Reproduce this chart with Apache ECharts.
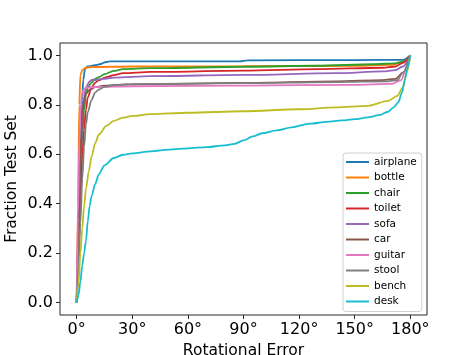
<!DOCTYPE html>
<html>
<head>
<meta charset="utf-8">
<script src="https://cdn.jsdelivr.net/npm/echarts@6/dist/echarts.min.js"></script>
<style>
html,body{margin:0;padding:0;background:#fff;}
#chart{width:474px;height:355px;}
</style>
</head>
<body>
<div id="chart"></div>
<script>
// Category names (legend order)
const categories = ['airplane','bottle','chair','toilet','sofa','car','guitar','stool','bench','desk'];
const colors = ['#1f77b4','#ff7f0e','#2ca02c','#d62728','#9467bd','#8c564b','#e377c2','#7f7f7f','#bcbd22','#17becf'];

// Tick labels
const xTicks = [0,30,60,90,120,150,180];
const yTicks = [0,0.2,0.4,0.6,0.8,1.0];

// Series values: [rotational error (deg), fraction of test set]
const airplane = [[0,0],[1,0.25],[2,0.55],[3,0.82],[3.5,0.9],[4.5,0.945],[6,0.955],[10,0.96],[13,0.965],[15,0.972],[18,0.976],[60,0.976],[88,0.976],[92,0.98],[150,0.981],[176,0.982],[180,1.0]];
const bottle = [[0,0],[0.7,0.4],[1.4,0.8],[2,0.92],[3,0.94],[5,0.95],[8,0.953],[30,0.955],[90,0.956],[150,0.958],[170,0.962],[175,0.97],[178,0.98],[180,1.0]];
const chair = [[0,0],[1,0.25],[2,0.5],[3,0.68],[4,0.78],[5,0.84],[6,0.87],[8,0.89],[10,0.905],[12,0.912],[15,0.924],[20,0.937],[25,0.944],[40,0.948],[90,0.954],[130,0.958],[160,0.964],[172,0.968],[176,0.975],[180,1.0]];
const toilet = [[0,0],[1,0.2],[2,0.4],[3,0.58],[4,0.7],[5,0.78],[6,0.83],[8,0.87],[10,0.89],[12,0.9],[16,0.912],[20,0.92],[25,0.928],[40,0.933],[90,0.938],[130,0.944],[165,0.95],[172,0.955],[176,0.97],[180,1.0]];
const sofa = [[0,0],[1,0.3],[2,0.58],[3,0.75],[4,0.83],[5,0.87],[7,0.895],[8.5,0.902],[10,0.9],[14,0.905],[20,0.91],[40,0.916],[90,0.921],[140,0.928],[165,0.935],[172,0.94],[176,0.955],[180,1.0]];
const car = [[0,0],[1,0.3],[2,0.6],[3,0.76],[4,0.82],[5,0.845],[7,0.86],[10,0.872],[15,0.878],[25,0.882],[50,0.885],[90,0.889],[140,0.895],[165,0.9],[172,0.905],[176,0.93],[180,1.0]];
const guitar = [[0,0],[0.7,0.35],[1.4,0.65],[2.2,0.8],[3,0.85],[4,0.865],[6,0.87],[10,0.872],[30,0.875],[90,0.878],[150,0.881],[170,0.885],[175,0.9],[178,0.95],[180,1.0]];
const stool = [[0,0],[1,0.15],[2,0.32],[3,0.5],[4,0.63],[5,0.72],[6,0.77],[8,0.82],[10,0.85],[12,0.862],[15,0.873],[20,0.88],[30,0.884],[60,0.886],[90,0.888],[140,0.892],[168,0.895],[173,0.9],[176,0.93],[180,1.0]];
const bench = [[0,0],[1,0.08],[2,0.2],[3,0.3],[4,0.39],[5,0.46],[6.5,0.53],[8,0.59],[10,0.645],[12,0.68],[16,0.715],[20,0.735],[25,0.748],[30,0.755],[40,0.762],[60,0.768],[90,0.774],[120,0.782],[140,0.79],[157,0.796],[168,0.816],[173,0.836],[176,0.87],[178,0.93],[180,1.0]];
const desk = [[0,0],[1,0.03],[2,0.085],[3,0.15],[4,0.2],[5,0.25],[6,0.33],[7,0.39],[8,0.43],[10,0.48],[12,0.52],[15,0.555],[20,0.585],[25,0.598],[30,0.604],[40,0.612],[50,0.619],[60,0.624],[70,0.629],[80,0.636],[85,0.642],[90,0.656],[95,0.672],[100,0.685],[108,0.697],[116,0.709],[126,0.724],[135,0.731],[143,0.737],[150,0.742],[157,0.749],[163,0.758],[168,0.772],[171,0.79],[173.5,0.81],[175.5,0.85],[177,0.9],[178.5,0.95],[180,1.0]];

const seriesData = [airplane,bottle,chair,toilet,sofa,car,guitar,stool,bench,desk];

const FONT = 'DejaVu Sans';
const chart = echarts.init(document.getElementById('chart'), null, {renderer:'canvas'});
chart.setOption({
  animation:false,
  backgroundColor:'#fff',
  textStyle:{fontFamily:FONT},
  grid:{left:60,right:47,top:43,bottom:40,outerBoundsMode:'none',containLabel:false,show:true,borderColor:'#262626',borderWidth:1,backgroundColor:'transparent'},
  xAxis:{
    type:'value',min:-9,max:189,
    name:'Rotational Error',nameLocation:'middle',nameGap:27,
    nameTextStyle:{fontSize:15.5,color:'#000',fontFamily:FONT},
    axisLine:{show:false,onZero:false},
    splitLine:{show:false},
    axisTick:{show:true,inside:false,length:4,lineStyle:{color:'#262626',width:1},customValues:xTicks},
    axisLabel:{color:'#000',fontSize:16,fontFamily:FONT,margin:7,customValues:xTicks,formatter:function(v){return v+'°';}}
  },
  yAxis:{
    type:'value',min:-0.05,max:1.05,
    name:'Fraction Test Set',nameLocation:'middle',nameGap:40,nameRotate:90,nameMoveOverlap:false,
    nameTextStyle:{fontSize:15.5,color:'#000',fontFamily:FONT},
    axisLine:{show:false,onZero:false},
    splitLine:{show:false},
    axisTick:{show:true,inside:false,length:4,lineStyle:{color:'#262626',width:1},customValues:yTicks},
    axisLabel:{color:'#000',fontSize:16,fontFamily:FONT,margin:7,customValues:yTicks,formatter:function(v){return v.toFixed(1);}}
  },
  legend:{
    orient:'vertical',left:343,top:153,
    data:categories,
    icon:'rect',itemWidth:23,itemHeight:2,itemGap:3.5,
    padding:[3,5,4,3],
    backgroundColor:'#fff',borderColor:'#d0d0d0',borderWidth:1,borderRadius:3,
    textStyle:{fontSize:10.5,color:'#000',fontFamily:FONT,lineHeight:12}
  },
  series:categories.map(function(name,i){
    return {
      name:name,type:'line',data:seriesData[i],
      symbol:'none',smooth:0.3,smoothMonotone:'x',
      lineStyle:{width:1.8,color:colors[i]},
      itemStyle:{color:colors[i]},
      z:2+i
    };
  })
});
</script>
</body>
</html>
